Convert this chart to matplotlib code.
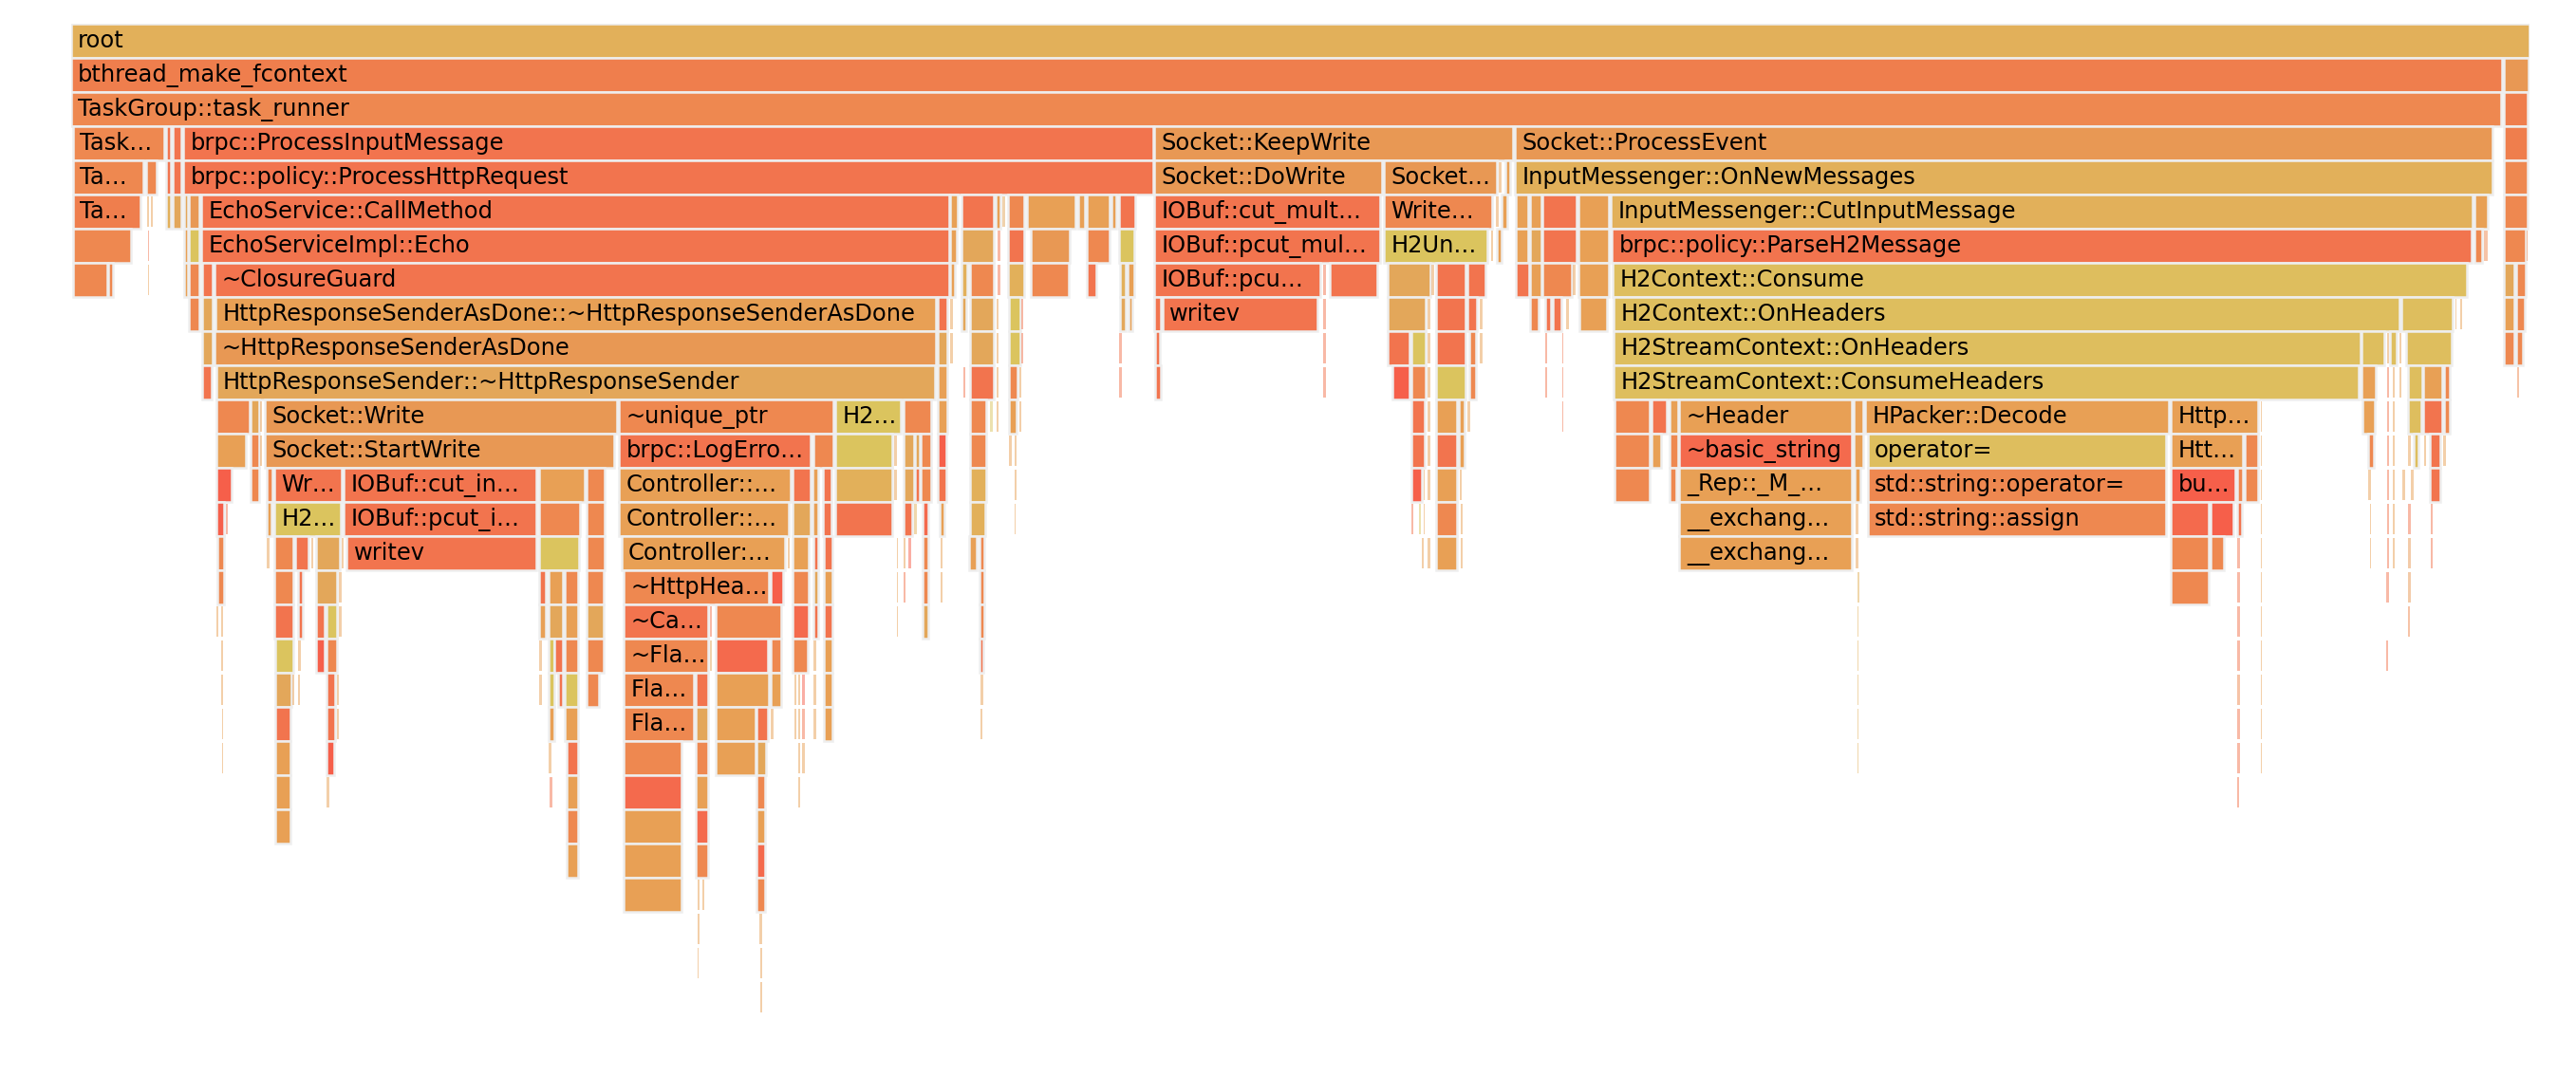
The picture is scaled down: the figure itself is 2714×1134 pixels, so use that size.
import matplotlib
matplotlib.use("Agg")
import matplotlib.pyplot as plt
from matplotlib.patches import Rectangle

# flame graph frames per stack depth: (start, end[, name]) in samples
row00 = [(0, 1496.5, "root")]
row01 = [(0, 1479.8, "bthread_make_fcontext"), (1480.8, 1496)]
row02 = [(0, 1479, "TaskGroup::task_runner"), (1480.8, 1495.6)]
row03 = [(1.3, 56.8, "Task…"), (58, 61), (62, 67), (68.5, 659, "brpc::ProcessInputMessage"),
         (659.5, 878, "Socket::KeepWrite"), (879, 1474, "Socket::ProcessEvent"), (1480.8, 1495.6)]
row04 = [(1.3, 44.2, "Ta…"), (45.6, 52), (58, 61), (62, 67),
         (68.5, 659, "brpc::policy::ProcessHttpRequest"), (659.5, 798, "Socket::DoWrite"),
         (799, 868, "Socket…"), (869, 871), (873, 876),
         (879, 1474, "InputMessenger::OnNewMessages"), (1480.8, 1495.6)]
row05 = [(1.3, 42.2, "Ta…"), (46, 47.6), (48.5, 50), (58, 61), (62, 67), (68.7, 71.2), (72.1, 78.3),
         (79.5, 534.7, "EchoService::CallMethod"), (535, 540), (542, 562), (563, 566), (567, 569),
         (570.5, 580.5), (582, 611.5), (613, 617), (618.5, 632), (633.5, 636), (638, 648),
         (659.5, 797, "IOBuf::cut_mult…"), (799, 865, "Write…"), (867, 869), (871, 874),
         (879.5, 887), (888, 894.8), (895.8, 916.6), (917.5, 936.2),
         (937.5, 1462, "InputMessenger::CutInputMessage"), (1463, 1470.8), (1480.8, 1495.6)]
row06 = [(1.3, 36.3), (46.5, 48), (68.7, 71.2), (72.1, 78.3), (79.5, 534.7, "EchoServiceImpl::Echo"),
         (535, 539), (542, 562), (564, 566), (570.5, 580.5), (584, 608), (618.5, 632), (638, 647),
         (659.5, 797, "IOBuf::pcut_mul…"), (799, 862, "H2Un…"), (864, 866), (868, 871),
         (879.5, 887), (888, 894.8), (895.8, 916.6), (917.5, 936.2),
         (938, 1461, "brpc::policy::ParseH2Message"), (1463, 1467.7), (1468.8, 1471),
         (1480.8, 1494), (1494.5, 1495.6)]
row07 = [(1.3, 21.9), (22.9, 25.7), (47, 48), (68.7, 71.2), (72.1, 78.3), (79.9, 86.4),
         (87.4, 534.5, "~ClosureGuard"), (535, 538), (542, 545.5), (547, 562), (564, 566),
         (570.5, 580.5), (584, 607.5), (618.5, 624), (638.5, 642), (643, 647),
         (659.5, 760.5, "IOBuf::pcu…"), (762, 764), (766, 795), (801.4, 827.4), (828, 830),
         (831, 848.6), (850, 861), (879.5, 887.5), (888, 894.8), (895.8, 913.3), (914, 916),
         (917.5, 936.2), (938.6, 1458.6, "H2Context::Consume"), (1480.8, 1487.5), (1488.5, 1494)]
row08 = [(72.1, 78.3), (79.9, 86.4), (88, 526.4, "HttpResponseSenderAsDone::~HttpResponseSenderAsDone"),
         (527.8, 533.5), (535, 537), (542, 545), (547, 562), (563, 565), (570.8, 578), (578.5, 580),
         (638.7, 642), (643.5, 646), (659.5, 663.5), (664.5, 759, "writev"), (762, 764),
         (801.4, 824.5), (825.5, 827.5), (831, 848.6), (850, 856), (857.5, 859.5),
         (888, 893.6), (897.5, 900.6), (902, 907), (910, 912), (918, 935),
         (939, 1417.6, "H2Context::OnHeaders"), (1418.6, 1449.9), (1451, 1452.5), (1454, 1455.5),
         (1480.8, 1487.5), (1488.5, 1493.6)]
row09 = [(79.9, 86.4), (87.4, 526.4, "~HttpResponseSenderAsDone"), (527.8, 533.5), (535, 537),
         (547, 562), (563, 565), (570.8, 578), (578.5, 580), (638, 640), (660, 663), (762, 764),
         (801.4, 815), (815.9, 824.5), (825.5, 827.5), (831, 848.6), (851, 855.4), (857.5, 859.5),
         (897, 899), (907.5, 908.5), (939, 1393.6, "H2StreamContext::OnHeaders"),
         (1394.5, 1408), (1409.5, 1411), (1411.8, 1415.7), (1417, 1418.5), (1421.5, 1449.4),
         (1480.8, 1487.5), (1488.5, 1492.7)]
row10 = [(79.9, 85.6), (88.3, 526, "HttpResponseSender::~HttpResponseSender"), (527.8, 533.5),
         (542.8, 544.6), (547, 561.5), (563, 565), (571, 576), (577, 578.5), (638, 640),
         (660, 663.4), (762, 764), (804.3, 814.9), (815.9, 824.5), (825.5, 827.5), (831, 848.6),
         (851, 855.4), (897, 899), (907.5, 908.5), (939, 1392.6, "H2StreamContext::ConsumeHeaders"),
         (1394.5, 1403), (1409.6, 1411), (1413, 1414.5), (1417, 1418.5), (1422.5, 1431.1),
         (1432, 1443.6), (1444.6, 1448), (1489, 1490.5)]
row11 = [(88.5, 108.5), (109.5, 114.3), (115, 116.5), (117.8, 332.5, "Socket::Write"),
         (333.7, 464, "~unique_ptr"), (465.5, 505, "H2…"), (506.6, 523.4), (527.8, 533.5),
         (547, 557), (559.4, 561.3), (563, 565), (571, 575.5), (577, 578.5), (815.9, 824),
         (825.5, 827.5), (831, 843.8), (845, 848), (850, 852), (907.5, 908.5), (939.5, 961),
         (962, 971.5), (973, 978), (979, 1084, "~Header"), (1085, 1091),
         (1092, 1277, "HPacker::Decode"), (1278, 1331.5, "Http…"), (1332.6, 1333.5),
         (1395, 1402.6), (1409.6, 1411), (1413, 1414.5), (1422.5, 1430.7), (1432, 1443.6),
         (1444.7, 1447.8)]
row12 = [(88.5, 106.5), (109.5, 114.3), (115, 116.5), (117.8, 330.5, "Socket::StartWrite"),
         (333.7, 450.4, "brpc::LogErro…"), (452, 464), (465.5, 499.9), (501, 503), (506.8, 513),
         (514, 516.4), (517.4, 523.5), (527.8, 533), (547, 557), (570.8, 573), (574, 576),
         (815.9, 824), (825.5, 827.5), (831, 843.8), (845, 848), (939.5, 961), (962, 968),
         (973, 978), (979, 1084, "~basic_string"), (1085, 1091), (1093.6, 1275.5, "operator="),
         (1278, 1322, "Htt…"), (1323.3, 1331.5), (1332.6, 1333.5), (1398, 1402), (1409.6, 1411),
         (1413, 1414.5), (1422.5, 1424.5), (1426, 1429), (1432, 1434), (1436, 1442), (1444, 1446)]
row13 = [(88.5, 97.6), (109.5, 114.3), (119, 122.6), (123.6, 165, "Wr…"),
         (166, 283.5, "IOBuf::cut_in…"), (285, 312.5), (313.7, 324.8),
         (333.7, 438.2, "Controller::…"), (439.3, 450.4), (451.6, 455), (458, 463.2),
         (465.5, 499.9), (501, 503), (506.8, 513), (514, 516.4), (517.4, 523.5), (527.8, 533),
         (547, 557), (574, 576), (815.9, 822), (823, 824.5), (825.5, 827.5), (831, 843.8),
         (845, 847), (939.5, 961), (973, 977), (979, 1084, "_Rep::_M_…"), (1086, 1089),
         (1093.6, 1275.5, "std::string::operator="), (1278, 1317.5, "bu…"), (1318.6, 1322),
         (1323.3, 1331.5), (1332.6, 1333.5), (1398, 1400), (1409.6, 1411), (1413, 1414.5),
         (1419, 1421), (1424, 1426), (1436, 1442)]
row14 = [(88.5, 93), (94, 95.5), (119, 122), (123.7, 164, "H2…"), (166, 283.5, "IOBuf::pcut_i…"),
         (285, 310), (313.7, 324.8), (333.7, 437, "Controller::…"), (439.3, 450.4), (451.6, 455),
         (458, 463.2), (465.5, 499.9), (506.8, 512), (513, 515), (518.4, 521.6), (529, 531.6),
         (547, 556.3), (574, 575.5), (815.9, 817.5), (820.5, 822), (823, 824.5), (831, 843.8),
         (845.5, 847.5), (979, 1084, "__exchang…"), (1086, 1088),
         (1093.6, 1275.5, "std::string::assign"), (1278, 1301.3), (1302.4, 1316.3),
         (1318.6, 1321.7), (1332.6, 1333.5), (1399, 1400.5), (1409.6, 1411), (1413, 1414.5),
         (1422.5, 1424.5), (1436, 1437.5)]
row15 = [(89.4, 93), (119, 121), (123.6, 135.5), (136.5, 144.8), (146, 147.5), (149.2, 163.5),
         (164.5, 166), (168, 283.5, "writev"), (285, 309), (313.7, 324.8),
         (335, 434.8, "Controller:…"), (436, 437.5), (439.4, 449), (452, 455), (458.6, 463.5),
         (502.4, 503.5), (506.5, 508), (509.3, 511.6), (518.4, 521.6), (529, 531), (546.7, 551.5),
         (553, 556), (822, 823.5), (825.5, 827.5), (831, 843.8), (845.5, 847.5),
         (979, 1084, "__exchang…"), (1086, 1088), (1278, 1301.3), (1302.4, 1310.6),
         (1318.5, 1320.4), (1332.6, 1333.5), (1399, 1400.5), (1409.6, 1411), (1413, 1414.5),
         (1422.5, 1424.5), (1436, 1437.5)]
row16 = [(89.4, 93), (123.7, 135.5), (138, 141.3), (149.2, 162), (163, 165), (285, 289),
         (290.5, 299.5), (300.8, 308.6), (314, 324.4), (336.4, 425, "~HttpHea…"), (426, 433.6),
         (439.4, 449), (452, 455), (458.6, 463.5), (502.4, 503.5), (506.5, 508), (518.4, 521.6),
         (529, 531), (553, 556), (1087, 1089), (1278, 1301), (1318.5, 1320.4), (1332.6, 1333.5),
         (1409, 1411), (1422.5, 1424.5)]
row17 = [(88.5, 90), (91.5, 93), (123.7, 135.5), (138, 141), (149.2, 154.4), (155.3, 162),
         (163, 165), (285, 289), (290.5, 299.5), (300.8, 308.6), (314, 324.4),
         (336.4, 387.8, "~Ca…"), (388.5, 390.5), (392.4, 432.4), (439.4, 449), (452, 455),
         (458.6, 463.5), (502.4, 503.5), (518.4, 521.6), (553, 556), (1087, 1088.5),
         (1318.5, 1320.4), (1332.6, 1333.5), (1422.5, 1424)]
row18 = [(91.5, 93), (124.4, 135.5), (138, 140), (149.2, 154.2), (155.3, 162), (285, 287),
         (290.5, 294), (294.5, 299.5), (300.8, 308.6), (314, 324.4), (336.4, 387.8, "~Fla…"),
         (388.5, 390.5), (392.4, 424.4), (426, 432.6), (439.4, 448.5), (452, 454), (458.6, 463.5),
         (553, 555.5), (1087, 1088.5), (1318.5, 1320.4), (1332.6, 1333.5), (1409, 1410.5)]
row19 = [(91.5, 93), (124.2, 134.2), (134.5, 136), (138, 139.5), (155.3, 160.8), (162, 163.5),
         (285, 287), (290.5, 294), (296.5, 299.5), (300.8, 308.6), (313.7, 321.5),
         (336.4, 379.3, "Fla…"), (380.3, 387.8), (392.4, 424.6), (426, 432.3), (440, 441.5),
         (442.5, 444), (445, 447), (452, 454), (458.6, 463.5), (553.5, 555.5), (1087, 1088.5),
         (1318.5, 1320.4), (1332.6, 1333.5)]
row20 = [(92, 93), (124.2, 133.7), (155.3, 160.8), (162, 163.5), (290.5, 294), (300.8, 308.6),
         (336.4, 379.3, "Fla…"), (380.3, 387.8), (392.2, 416.7), (417.2, 424), (426, 428),
         (440, 441.5), (442.5, 444), (445, 447), (452, 454), (458.6, 463.5), (553.5, 555),
         (1087, 1088.5), (1318.5, 1320.4), (1332.6, 1333.5)]
row21 = [(92, 93), (124.2, 133.7), (155.3, 160), (290.5, 292.5), (302, 308.6), (336.4, 371.4),
         (380.3, 387.8), (392.2, 416.7), (417.2, 423), (442.5, 444), (445, 447), (1087, 1088.5),
         (1318.5, 1320.4), (1332.6, 1333.5)]
row22 = [(124.2, 133.7), (155.3, 157.5), (291, 293), (302, 308.6), (336.4, 371.4), (380.3, 387.8),
         (417.2, 422.6), (442.5, 444), (1318.5, 1320)]
row23 = [(124.2, 133.7), (302, 308.6), (336.4, 371.4), (380.3, 387.8), (417.2, 422.6)]
row24 = [(302, 308.6), (336.4, 371.4), (380.3, 387.8), (417.2, 422.6)]
row25 = [(336.4, 371.4), (381, 383), (384, 385.5), (417.2, 422.6)]
row26 = [(381, 383), (419, 421)]
row27 = [(381.5, 382.5), (419.5, 421)]
row28 = [(419.5, 421)]

rows = [row00, row01, row02, row03, row04, row05, row06, row07, row08, row09,
        row10, row11, row12, row13, row14, row15, row16, row17, row18, row19,
        row20, row21, row22, row23, row24, row25, row26, row27, row28]

# colour key of each frame, one letter per frame of the row
row_colors = [
    "A", "GE", "FG", "FHHHEEG", "FFHHHEEDDAF",
    "GDDAKKEHDHDKFDDDDHHFDDDDHDADF",
    "FHDCHDKHHEFCHCDDDKHDHFFFF",
    "FFDDFHHDAFHAFHADHHHKDHHHDFDDBKF",
    "FKDHDKKDCHKDHHHKDHHDFHHDDBBDDDF",
    "KEKDKDCHHHHHCDHFDHHBBDBDBFF",
    "HKDHHDFDHHHJFDCFHHBDHDDBDFF",
    "FKDEFCFDFCDDDHDDDDHFHDDDDDDDHDBHF",
    "DFDEHFCDKKFJFDDHDHDFDFIDBDFDFHDDBDHD",
    "JFFHHDFDHDHADKHFHADJDDDDFFDDFJFFDDHDDDH",
    "JHDCHFFDKDHHHAIDADHCDFDDDFIJHDDHDHH",
    "FDFHDKDHCFDDDHHDDJFDDFDDDDDDFFHDDHDEH",
    "FFHKDHDFFFJFKDDHFDFAFHDHE",
    "DDHHHCDDKDKHHFIHHDKFAHDF",
    "DCDJFDCHFFFKIFFDDHAHDH",
    "DKDDHDDCHCFFHDDDDJDDDAFD",
    "DHHDDDFKDHDDDHDDDAHD",
    "DDJDHFFDKDDAHD",
    "DDHDIDFDH", "DFDID", "DDFI", "DDDF", "DD", "DD", "D",
]

palette = {
    "A": "#E2B05A", "B": "#DEBE5E", "C": "#DBC45E", "D": "#E8A055",
    "E": "#E89854", "F": "#EE8850", "G": "#EF7E4D", "H": "#F2744E",
    "I": "#F46A4D", "J": "#F65F4A", "K": "#E3A75A",
}

total = row00[0][1]
W, H = 2714, 1134
left_px, right_px, top_px, row_px = 74.7, 2665, 25, 36
nrows = len(rows)

fig = plt.figure(figsize=(W / 100, H / 100), dpi=100)
ax = fig.add_axes([left_px / W, 1 - (top_px + nrows * row_px) / H,
                   (right_px - left_px) / W, nrows * row_px / H])
ax.set_xlim(0, total)
ax.set_ylim(nrows, 0)
ax.axis("off")

px_per_sample = (right_px - left_px) / total
pad = 7.5 / px_per_sample

for depth, (frames, keys) in enumerate(zip(rows, row_colors)):
    for i, fr in enumerate(frames):
        start, end = fr[0], fr[1]
        name = fr[2] if len(fr) > 2 else ""
        color = palette[keys[i]] if i < len(keys) else palette["F"]
        width = end - start
        if width * px_per_sample < 4:
            ax.add_patch(Rectangle((start + 0.2, depth + 0.05), max(width - 0.4, 0.4), 0.9,
                                   facecolor=color, edgecolor="none", alpha=0.5))
            continue
        rect = Rectangle((start, depth), width, 1, facecolor=color,
                         edgecolor="#eeeeee", linewidth=1.8)
        ax.add_patch(rect)
        if name:
            t = ax.text(start + pad, depth + 0.5, name, ha="left", va="center",
                        fontsize=17.4, color="black", family="DejaVu Sans")
            t.set_clip_path(rect)

fig.savefig("out.png", dpi=100, facecolor="white")
